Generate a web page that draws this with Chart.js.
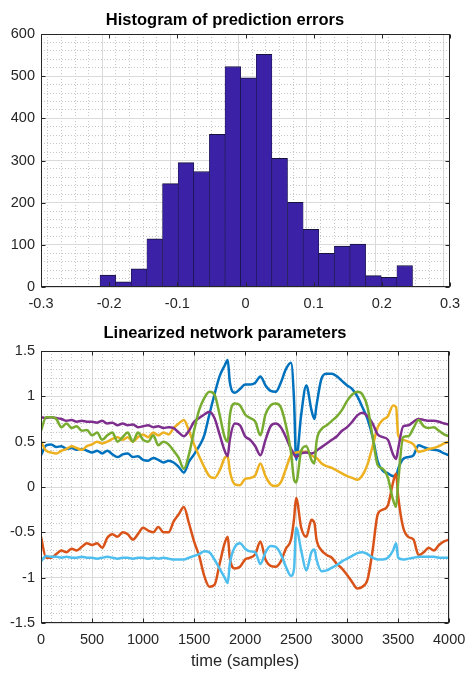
<!DOCTYPE html>
<html>
<head>
<meta charset="utf-8">
<title>Prediction errors and network parameters</title>
<script src="https://cdn.jsdelivr.net/npm/chart.js@4.4.0/dist/chart.umd.min.js"></script>
<style>
  html, body { margin: 0; padding: 0; background: #fff; }
  #top { position: absolute; left: 0; top: 0; width: 474px; height: 320px; }
  #bottom { position: absolute; left: 0; top: 320px; width: 474px; height: 372px; }
</style>
</head>
<body>
<div id="top"><canvas id="histChart"></canvas></div>
<div id="bottom"><canvas id="paramChart"></canvas></div>
<script>
// histogram: bin edges and counts
const histBinEdges = [-0.2134, -0.1905, -0.1676, -0.1446, -0.1217, -0.0988, -0.0759, -0.0530, -0.0300, -0.0071,
  0.0158, 0.0387, 0.0616, 0.0846, 0.1075, 0.1304, 0.1533, 0.1762, 0.1992, 0.2221, 0.2450];
const histCounts = [28, 12, 43, 114, 245, 295, 274, 362, 523, 496, 552, 305, 201, 137, 80, 97, 102, 27, 23, 51];
const histXTicks = [-0.3, -0.2, -0.1, 0, 0.1, 0.2, 0.3];
const histYTicks = [0, 100, 200, 300, 400, 500, 600];

// network parameters over time
const paramTime = [0, 50, 100, 150, 200, 250, 300, 350, 400, 450,
  500, 550, 600, 650, 700, 750, 800, 850, 900, 950,
  1000, 1050, 1100, 1150, 1200, 1250, 1300, 1350, 1400, 1450,
  1500, 1550, 1600, 1650, 1700, 1750, 1800, 1830, 1850, 1900,
  1950, 2000, 2050, 2100, 2150, 2200, 2250, 2300, 2350, 2400,
  2450, 2480, 2500, 2550, 2600, 2650, 2680, 2700, 2750, 2800,
  2850, 2900, 2950, 3000, 3050, 3100, 3150, 3200, 3250, 3300,
  3350, 3400, 3450, 3480, 3500, 3550, 3600, 3650, 3700, 3750,
  3800, 3850, 3900, 3950, 4000];
const paramBlue = [0.35, 0.46, 0.47, 0.44, 0.45, 0.42, 0.43, 0.41, 0.42, 0.40,
  0.38, 0.40, 0.37, 0.40, 0.36, 0.33, 0.36, 0.37, 0.33, 0.34,
  0.30, 0.29, 0.32, 0.30, 0.27, 0.29, 0.27, 0.22, 0.16, 0.28,
  0.36, 0.45, 0.57, 0.80, 1.02, 1.22, 1.34, 1.40, 1.16, 1.04,
  1.08, 1.13, 1.13, 1.15, 1.22, 1.12, 1.06, 1.05, 1.15, 1.30,
  1.37, 0.95, 0.30, 0.80, 1.12, 0.85, 0.75, 0.90, 1.20, 1.25,
  1.25, 1.22, 1.17, 1.12, 1.08, 1.00, 0.88, 0.75, 0.55, 0.28,
  0.18, 0.15, 0.12, 0.12, 0.20, 0.31, 0.33, 0.35, 0.46, 0.44,
  0.42, 0.41, 0.40, 0.37, 0.35];
const paramOrange = [-0.55, -0.78, -0.78, -0.74, -0.70, -0.72, -0.68, -0.70, -0.66, -0.62,
  -0.64, -0.62, -0.67, -0.56, -0.52, -0.55, -0.50, -0.52, -0.58, -0.52,
  -0.45, -0.48, -0.50, -0.44, -0.50, -0.50, -0.38, -0.30, -0.22, -0.40,
  -0.60, -0.76, -0.98, -1.10, -1.08, -0.85, -0.62, -0.55, -0.78, -0.90,
  -0.88, -0.80, -0.78, -0.74, -0.60, -0.80, -0.87, -0.88, -0.82, -0.68,
  -0.58, -0.35, -0.12, -0.45, -0.55, -0.36, -0.40, -0.58, -0.70, -0.75,
  -0.78, -0.85, -0.90, -0.97, -1.05, -1.12, -1.10, -1.02, -0.70, -0.30,
  -0.25, -0.20, 0.05, 0.15, -0.10, -0.45, -0.55, -0.58, -0.75, -0.72,
  -0.67, -0.70, -0.64, -0.60, -0.58];
const paramYellow = [0.50, 0.40, 0.38, 0.37, 0.40, 0.42, 0.45, 0.43, 0.41, 0.45,
  0.47, 0.50, 0.48, 0.50, 0.53, 0.55, 0.52, 0.55, 0.50, 0.55,
  0.58, 0.55, 0.60, 0.57, 0.60, 0.58, 0.65, 0.70, 0.74, 0.62,
  0.47, 0.34, 0.22, 0.12, 0.10, 0.18, 0.32, 0.34, 0.18, 0.03,
  0.02, 0.09, 0.10, 0.13, 0.26, 0.12, 0.03, 0.01, 0.05, 0.20,
  0.35, 0.37, 0.38, 0.39, 0.39, 0.35, 0.33, 0.32, 0.26, 0.23,
  0.21, 0.18, 0.15, 0.12, 0.10, 0.08, 0.13, 0.25, 0.45, 0.66,
  0.74, 0.78, 0.90, 0.88, 0.57, 0.52, 0.50, 0.47, 0.39, 0.40,
  0.42, 0.43, 0.45, 0.48, 0.50];
const paramPurple = [0.77, 0.76, 0.77, 0.76, 0.75, 0.73, 0.74, 0.72, 0.73, 0.72,
  0.72, 0.71, 0.73, 0.70, 0.71, 0.68, 0.70, 0.68, 0.69, 0.66,
  0.67, 0.68, 0.66, 0.67, 0.65, 0.66, 0.65, 0.60, 0.56, 0.62,
  0.72, 0.76, 0.80, 0.83, 0.76, 0.58, 0.40, 0.34, 0.52, 0.70,
  0.68, 0.56, 0.52, 0.45, 0.35, 0.52, 0.67, 0.70, 0.66, 0.55,
  0.42, 0.36, 0.33, 0.37, 0.38, 0.37, 0.38, 0.40, 0.44, 0.48,
  0.52, 0.56, 0.62, 0.66, 0.72, 0.79, 0.82, 0.78, 0.70, 0.58,
  0.55, 0.52, 0.36, 0.31, 0.42, 0.67, 0.68, 0.72, 0.75, 0.74,
  0.73, 0.73, 0.72, 0.70, 0.69];
const paramGreen = [0.62, 0.77, 0.77, 0.75, 0.66, 0.70, 0.65, 0.67, 0.62, 0.63,
  0.57, 0.60, 0.52, 0.57, 0.60, 0.50, 0.55, 0.60, 0.50, 0.60,
  0.52, 0.50, 0.57, 0.46, 0.50, 0.47, 0.40, 0.32, 0.20, 0.36,
  0.62, 0.85, 0.98, 1.05, 1.02, 0.80, 0.55, 0.50, 0.78, 0.92,
  0.90, 0.80, 0.76, 0.72, 0.57, 0.80, 0.90, 0.92, 0.88, 0.68,
  0.38, 0.08, 0.05, 0.40, 0.45, 0.30, 0.26, 0.50, 0.64, 0.68,
  0.73, 0.78, 0.85, 0.95, 1.02, 1.05, 1.02, 0.88, 0.55, 0.24,
  0.20, 0.10, -0.14, -0.22, 0.05, 0.55, 0.56, 0.65, 0.74, 0.67,
  0.65, 0.66, 0.62, 0.58, 0.56];
const paramCyan = [-0.82, -0.76, -0.77, -0.77, -0.78, -0.77, -0.78, -0.78, -0.77, -0.78,
  -0.78, -0.79, -0.78, -0.77, -0.78, -0.79, -0.78, -0.78, -0.79, -0.78,
  -0.78, -0.79, -0.78, -0.79, -0.78, -0.79, -0.80, -0.80, -0.80, -0.78,
  -0.76, -0.74, -0.71, -0.72, -0.80, -0.90, -1.00, -1.06, -0.85, -0.66,
  -0.62, -0.68, -0.71, -0.72, -0.85, -0.72, -0.65, -0.66, -0.74, -0.88,
  -0.98, -0.90, -0.45, -0.70, -0.92, -0.72, -0.69, -0.80, -0.93, -0.92,
  -0.89, -0.86, -0.82, -0.79, -0.76, -0.73, -0.72, -0.74, -0.78, -0.80,
  -0.80, -0.78, -0.70, -0.62, -0.78, -0.80, -0.79, -0.78, -0.77, -0.77,
  -0.77, -0.77, -0.78, -0.78, -0.78];
const paramXTicks = [0, 500, 1000, 1500, 2000, 2500, 3000, 3500, 4000];
const paramYTicks = [-1.5, -1, -0.5, 0, 0.5, 1, 1.5];

const seriesList = [paramBlue, paramOrange, paramYellow, paramPurple, paramGreen, paramCyan];
const seriesColors = ['#0072bd', '#d95319', '#edb120', '#7e2f8e', '#77ac30', '#4dbeee'];

Chart.defaults.font.family = '"Liberation Sans", Arial, Helvetica, sans-serif';
Chart.defaults.color = '#262626';

function minorTicks(min, max, step) {
  const out = [];
  const n = Math.round((max - min) / step);
  for (let k = 0; k <= n; k++) out.push(+(min + k * step).toFixed(6));
  return out;
}

function findMajor(v, majors) {
  return majors.find((m) => Math.abs(m - v) < 1e-6);
}

// linear axis with solid major grid and dotted minor grid, labels on majors only
function makeAxis(majors, minorStep, size, pad, extra) {
  const min = majors[0];
  const max = majors[majors.length - 1];
  const minors = minorTicks(min, max, minorStep);
  return Object.assign({
    type: 'linear',
    min: min,
    max: max,
    afterBuildTicks: (scale) => { scale.ticks = minors.map((v) => ({ value: v })); },
    afterFit: (scale) => {
      if (scale.isHorizontal()) scale.height = size; else scale.width = size;
    },
    grid: {
      drawTicks: false,
      lineWidth: 1,
      color: (c) => (c.tick && findMajor(c.tick.value, majors) !== undefined ? '#dadada' : '#c8c8c8')
    },
    border: {
      display: false,
      dash: (c) => (c.tick && findMajor(c.tick.value, majors) !== undefined ? [] : [1, 2])
    },
    ticks: {
      autoSkip: false,
      maxRotation: 0,
      padding: pad,
      color: '#262626',
      font: { size: 14.5 },
      callback: (v) => {
        const m = findMajor(v, majors);
        return m === undefined ? '' : String(m);
      }
    }
  }, extra || {});
}

// box round the plot area with small inward ticks, like the original figure
function makeFrame(xTicks, yTicks) {
  return {
    id: 'frame',
    afterDraw(chart) {
      const { ctx, chartArea: a, scales } = chart;
      const l = Math.round(a.left) + 0.5;
      const r = Math.round(a.right) - 0.5;
      const t = Math.round(a.top) + 0.5;
      const b = Math.round(a.bottom) - 0.5;
      ctx.save();
      ctx.strokeStyle = '#262626';
      ctx.lineWidth = 1;
      ctx.strokeRect(l, t, r - l, b - t);
      ctx.beginPath();
      xTicks.forEach((v) => {
        const x = Math.round(scales.x.getPixelForValue(v)) + 0.5;
        ctx.moveTo(x, b); ctx.lineTo(x, b - 4);
        ctx.moveTo(x, t); ctx.lineTo(x, t + 4);
      });
      yTicks.forEach((v) => {
        const y = Math.round(scales.y.getPixelForValue(v)) + 0.5;
        ctx.moveTo(l, y); ctx.lineTo(l + 4, y);
        ctx.moveTo(r, y); ctx.lineTo(r - 4, y);
      });
      ctx.stroke();
      ctx.restore();
    }
  };
}

function initHistogram(target) {
  const points = histCounts.map((c, i) => ({ x: (histBinEdges[i] + histBinEdges[i + 1]) / 2, y: c }));
  return new Chart(target, {
    type: 'bar',
    data: {
      datasets: [{
        data: points,
        backgroundColor: '#3b21a5',
        borderColor: '#15143a',
        borderWidth: { top: 1, left: 0.6, right: 0.6, bottom: 0 },
        borderSkipped: false,
        barThickness: 'flex',
        barPercentage: 1,
        categoryPercentage: 1
      }]
    },
    options: {
      responsive: true,
      maintainAspectRatio: false,
      animation: false,
      layout: { padding: { left: 0, right: 24, top: 0, bottom: 0 } },
      plugins: {
        legend: { display: false },
        tooltip: { enabled: false },
        title: {
          display: true,
          text: 'Histogram of prediction errors',
          color: '#000',
          font: { size: 16.5, weight: 'bold' },
          padding: { top: 10.7, bottom: 3.5 }
        }
      },
      scales: {
        x: makeAxis(histXTicks, 0.02, 33, 8.3, { offset: false }),
        y: makeAxis(histYTicks, 20, 41, 6)
      }
    },
    plugins: [makeFrame(histXTicks, histYTicks)]
  });
}

function initParams(target) {
  const datasets = seriesList.map((s, i) => ({
    data: s.map((v, k) => ({ x: paramTime[k], y: v })),
    borderColor: seriesColors[i],
    backgroundColor: seriesColors[i],
    borderWidth: 2.5,
    pointRadius: 0,
    fill: false,
    cubicInterpolationMode: 'monotone',
    order: seriesList.length - i
  }));
  return new Chart(target, {
    type: 'line',
    data: { datasets: datasets },
    options: {
      responsive: true,
      maintainAspectRatio: false,
      animation: false,
      layout: { padding: { left: 0, right: 24, top: 0, bottom: 0 } },
      plugins: {
        legend: { display: false },
        tooltip: { enabled: false },
        title: {
          display: true,
          text: 'Linearized network parameters',
          color: '#000',
          font: { size: 16.5, weight: 'bold' },
          padding: { top: 3.7, bottom: 7.5 }
        }
      },
      scales: {
        x: makeAxis(paramXTicks, 100, 69, 8.7, {
          title: {
            display: true,
            text: 'time (samples)',
            color: '#262626',
            font: { size: 16.5 },
            padding: { top: 0, bottom: 20.4 }
          }
        }),
        y: makeAxis(paramYTicks, 0.1, 41, 6)
      }
    },
    plugins: [makeFrame(paramXTicks, paramYTicks)]
  });
}

document.addEventListener('DOMContentLoaded', () => {
  initHistogram(document.querySelector('#histChart'));
  initParams(document.querySelector('#paramChart'));
});
</script>
</body>
</html>
